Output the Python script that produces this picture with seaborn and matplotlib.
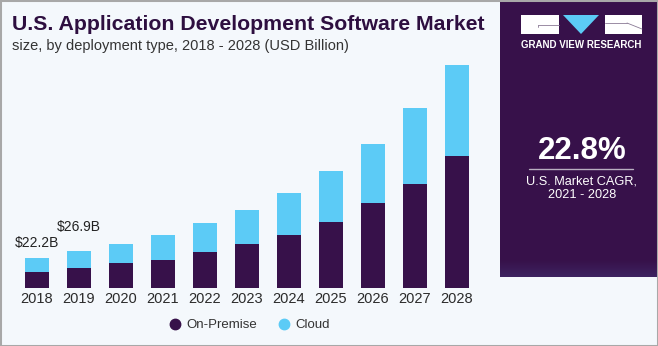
import numpy as np
import pandas as pd
import matplotlib
matplotlib.use("Agg")
import matplotlib.pyplot as plt
from matplotlib.lines import Line2D
from matplotlib.patches import Rectangle, Polygon
import seaborn as sns

# Market size by deployment type (USD Billion)
years = ["2018", "2019", "2020", "2021", "2022", "2023", "2024", "2025", "2026", "2027", "2028"]
on_premise = [11.7, 15.0, 18.3, 20.9, 26.3, 32.3, 38.9, 48.4, 62.1, 75.9, 96.6]
cloud = [10.5, 11.9, 14.0, 18.0, 21.2, 24.9, 30.5, 37.4, 43.0, 55.9, 66.4]
labelled_years = ["2018", "2019"]
series_names = ["On-Premise", "Cloud"]
cagr_text = "22.8%"
cagr_caption = "U.S. Market CAGR,\n2021 - 2028"

DARK = "#37114A"
LIGHT = "#5CCBF6"
BG = "#F4F8FC"

df = pd.DataFrame({"year": years, "on_premise": on_premise, "cloud": cloud})
df["total"] = df["on_premise"] + df["cloud"]

sns.set_theme(style="white")
plt.rcParams["font.family"] = ["Liberation Sans", "DejaVu Sans"]

W, H = 658, 346
fig = plt.figure(figsize=(W / 100, H / 100), dpi=100, facecolor=BG)

def fx(px):
    return px / W

def fy(py):
    return 1 - py / H

# Main bar axes
ax = fig.add_axes([fx(16), fy(288.3), fx(462), (288.3 - 60) / H])
ax.set_facecolor(BG)
sns.barplot(data=df, x="year", y="total", color=LIGHT, width=0.57,
            saturation=1, ax=ax, linewidth=0)
sns.barplot(data=df, x="year", y="on_premise", color=DARK, width=0.57,
            saturation=1, ax=ax, linewidth=0)
ax.set_xlim(-0.5, len(years) - 0.5)
ax.set_ylim(0, 228.3 * 0.73)
ax.set_xlabel("")
ax.set_ylabel("")
ax.set_yticks([])
ax.tick_params(axis="x", length=0, pad=3, labelsize=10.5, labelcolor="#2B2B2B")
for s in ax.spines.values():
    s.set_visible(False)

# Value labels above the first two bars (staggered so they don't collide)
label_lift = {"2018": 10.5, "2019": 17.3}
for yr in labelled_years:
    i = years.index(yr)
    tot = df.loc[i, "total"]
    ax.annotate(f"${tot:.1f}B", (i, tot), xytext=(0, label_lift[yr]),
                textcoords="offset points", ha="center", va="center",
                fontsize=10, color="#222222")

# Legend
handles = [Line2D([0], [0], marker="o", linestyle="", markersize=7.5,
                  markerfacecolor=c, markeredgecolor=c) for c in (DARK, LIGHT)]
fig.legend(handles, series_names, loc="center", bbox_to_anchor=(fx(250), fy(325)),
           ncol=2, frameon=False, fontsize=9.5, handlelength=0.8, handletextpad=0.5,
           columnspacing=1.6, labelcolor="#333333")

# Titles
fig.text(fx(12), fy(24), "U.S. Application Development Software Market",
         fontsize=15.3, fontweight="bold", color="#2E0F40", va="center", ha="left")
fig.text(fx(12), fy(46), "size, by deployment type, 2018 - 2028 (USD Billion)",
         fontsize=10.5, color="#333333", va="center", ha="left")

# Side panel with gradient base
pax = fig.add_axes([fx(500), fy(277), fx(157), 277 / H])
pax.set_xlim(0, 157)
pax.set_ylim(277, 0)
pax.axis("off")
top_rgb = np.array(matplotlib.colors.to_rgb("#37114A"))
bot_rgb = np.array(matplotlib.colors.to_rgb("#3E2462"))
t = np.clip((np.arange(277) - 260) / 17.0, 0, 1)[:, None]
grad = top_rgb[None, :] * (1 - t) + bot_rgb[None, :] * t
pax.imshow(grad[:, None, :], extent=(0, 157, 277, 0), aspect="auto", zorder=0)

# Logo blocks
pax.add_patch(Rectangle((21, 15), 38, 19, facecolor="white", edgecolor="none", zorder=2))
pax.add_patch(Polygon([(63, 15), (99, 15), (81, 34)], closed=True,
                      facecolor=LIGHT, edgecolor="none", zorder=2))
pax.add_patch(Rectangle((105, 15), 37, 19, facecolor="white", edgecolor="none", zorder=2))
pax.plot([38, 59], [24.5, 24.5], color="#8A7A95", lw=0.6, zorder=3)
pax.plot([38, 38], [24.5, 27], color="#8A7A95", lw=0.6, zorder=3)
pax.plot([127, 142], [23, 29], color="#8A7A95", lw=0.6, zorder=3)
pax.plot([105, 127], [23, 23], color="#8A7A95", lw=0.6, zorder=3)
pax.text(81.5, 45.5, "GRAND VIEW RESEARCH", color="white", fontsize=7,
         fontweight="bold", ha="center", va="center", zorder=3)

# CAGR callout
pax.text(82, 151, cagr_text, color="white", fontsize=22.5, fontweight="bold",
         ha="center", va="center", zorder=3)
pax.plot([29, 133], [169, 169], color="#B8AFC0", lw=1, zorder=3)
pax.text(82, 188.5, cagr_caption, color="white", fontsize=9.2,
         ha="center", va="center", linespacing=1.2, zorder=3)

# Outer frame
fig.patches.append(Rectangle((0, 0), 1, 1, transform=fig.transFigure, fill=False,
                             edgecolor="#A8A8A8", linewidth=2.2, zorder=10))

fig.savefig("out.png", dpi=100, facecolor=BG)
